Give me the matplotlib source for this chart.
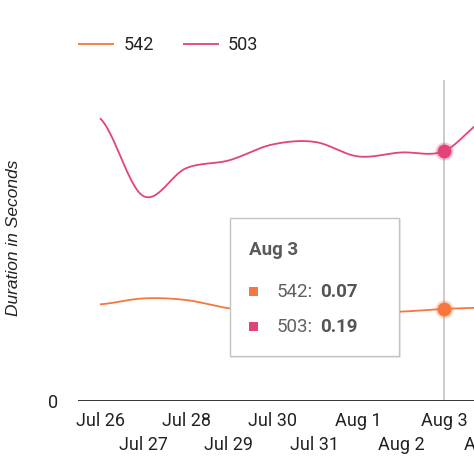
import matplotlib
matplotlib.use("Agg")
import matplotlib.pyplot as plt
import numpy as np
from matplotlib.patches import Rectangle

plt.rcParams["font.family"] = ["Roboto", "DejaVu Sans"]

# Datos
dias = ["Jul 26", "Jul 27", "Jul 28", "Jul 29", "Jul 30", "Jul 31",
        "Aug 1", "Aug 2", "Aug 3", "Aug 4"]
serie_542 = [0.0735, 0.078, 0.0768, 0.0705, 0.0675, 0.068, 0.068, 0.068, 0.07, 0.071]
serie_503 = [0.215, 0.156, 0.177, 0.183, 0.195, 0.197, 0.186, 0.189, 0.19, 0.215]
nombres = ["542", "503"]
colores = ["#f5763f", "#e2437b"]
indice_tooltip = 8


def curva_suave(y, pasos=30):
    """Catmull-Rom entre los puntos, solo para dibujar la linea suavizada."""
    y = np.asarray(y, dtype=float)
    x = np.arange(len(y), dtype=float)
    yp = np.concatenate([[y[0]], y, [y[-1]]])
    xs, ys = [], []
    for i in range(len(y) - 1):
        p0, p1, p2, p3 = yp[i], yp[i + 1], yp[i + 2], yp[i + 3]
        t = np.linspace(0, 1, pasos, endpoint=False)
        v = 0.5 * ((2 * p1) + (-p0 + p2) * t + (2 * p0 - 5 * p1 + 4 * p2 - p3) * t ** 2
                   + (-p0 + 3 * p1 - 3 * p2 + p3) * t ** 3)
        xs.append(x[i] + t)
        ys.append(v)
    xs.append([x[-1]])
    ys.append([y[-1]])
    return np.concatenate(xs), np.concatenate(ys)


W = 474
fig = plt.figure(figsize=(4.74, 4.74), dpi=100)
# el grafico sigue mas alla del borde derecho (se recorta en la imagen)
ax = fig.add_axes([78 / W, 1 - 401 / W, 452 / W, 321 / W])

x_idx = np.arange(len(dias))
lineas = []
for serie, nombre, color in zip([serie_542, serie_503], nombres, colores):
    xs, ys = curva_suave(serie)
    (ln,) = ax.plot(xs, ys, color=color, lw=1.3, label=nombre, zorder=3,
                    solid_capstyle="butt")
    lineas.append(ln)

# Linea vertical del cursor
ax.axvline(x_idx[indice_tooltip], color="#cccccc", lw=1.4, zorder=2)

# Marcadores en el punto seleccionado
for serie, color in zip([serie_542, serie_503], colores):
    ax.plot(x_idx[indice_tooltip], serie[indice_tooltip], "o", ms=13, color=color,
            alpha=0.3, mec="none", zorder=4)
    ax.plot(x_idx[indice_tooltip], serie[indice_tooltip], "o", ms=10, color=color,
            mec="none", zorder=5)

ax.axhline(0, color="#333333", lw=1.4, zorder=3)

for s in ax.spines.values():
    s.set_visible(False)

ax.set_xticks(x_idx[0::2])
ax.set_xticklabels(dias[0::2])
ax.set_xticks(x_idx[1::2], minor=True)
ax.set_xticklabels(dias[1::2], minor=True)
ax.tick_params(axis="x", which="major", length=0, pad=8, labelsize=13, labelcolor="#222222")
ax.tick_params(axis="x", which="minor", length=0, pad=25.5, labelsize=13, labelcolor="#222222")
ax.set_yticks([0])
ax.set_yticklabels(["0"])
ax.tick_params(axis="y", length=0, pad=14, labelsize=13, labelcolor="#222222")

# limites despues de los ticks (set_xticks los amplia)
ax.set_xlim((78 - 100) / 43, (530 - 100) / 43)
ax.set_ylim(0, 321 / 1315)

fig.text(14 / W, 1 - 238 / W, "Duration in Seconds", rotation=90, ha="center",
         va="center", fontsize=12.5, style="italic", color="#222222",
         family=["Liberation Sans", "DejaVu Sans"])

fig.legend(handles=lineas, labels=nombres, loc="center left", ncol=2,
           bbox_to_anchor=(62 / W, 1 - 45 / W), frameon=False, fontsize=13,
           handlelength=2.0, handletextpad=0.5, columnspacing=1.6,
           labelcolor="#222222")

# Tooltip
sombra = Rectangle((231 / W, 1 - 358 / W), 170 / W, 139 / W, transform=fig.transFigure,
                   facecolor="#000000", alpha=0.08, edgecolor="none", zorder=9)
caja = Rectangle((230 / W, 1 - 356 / W), 169 / W, 138 / W, transform=fig.transFigure,
                 facecolor="white", edgecolor="#c4c4c4", lw=1.0, zorder=10)
fig.add_artist(sombra)
fig.add_artist(caja)
fig.text(249 / W, 1 - 255 / W, dias[indice_tooltip], fontsize=13.5, weight="bold",
         color="#5a5a5a", zorder=11)
for k, (serie, nombre, color) in enumerate(zip([serie_542, serie_503], nombres, colores)):
    yb = 1 - (297 + 35 * k) / W
    fig.add_artist(Rectangle((249 / W, yb + 1 / W), 9 / W, 9 / W,
                             transform=fig.transFigure, facecolor=color,
                             edgecolor="none", zorder=11))
    fig.text(277 / W, yb, f"{nombre}:", fontsize=13.5, color="#616161", zorder=11)
    fig.text(320 / W, yb, f"{serie[indice_tooltip]:.2f}", fontsize=13.5, weight="bold",
             color="#555555", zorder=11)

fig.savefig("out.png", dpi=100)
